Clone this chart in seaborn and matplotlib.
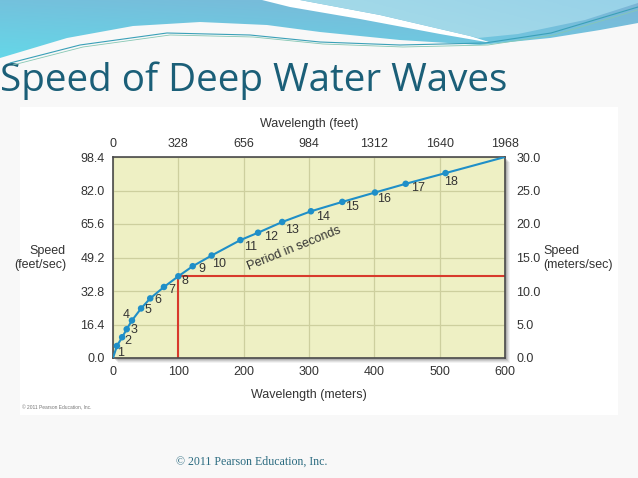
import matplotlib
matplotlib.use("Agg")
import matplotlib.pyplot as plt
from matplotlib.patches import Polygon, Rectangle
from matplotlib.colors import LinearSegmentedColormap
import numpy as np
import pandas as pd
import seaborn as sns

# wave period (s) and the values
period = list(range(1, 19))
wavelength_m = [6, 14, 21, 29, 43, 57, 78, 100, 122, 151, 195, 222, 259, 303, 351, 401, 448, 509]
speed_ms = [1.8, 3.1, 4.3, 5.6, 7.4, 8.9, 10.6, 12.2, 13.7, 15.3, 17.6, 18.7, 20.3, 21.9, 23.3, 24.7, 26.0, 27.6]
curve_start = (0, 0.0)
curve_end = (600, 30.0)

meter_ticks = [0, 100, 200, 300, 400, 500, 600]
feet_labels = ["0", "328", "656", "984", "1312", "1640", "1968"]
ms_ticks = [0, 5, 10, 15, 20, 25, 30]
fts_labels = ["0.0", "16.4", "32.8", "49.2", "65.6", "82.0", "98.4"]
ms_labels = ["0.0", "5.0", "10.0", "15.0", "20.0", "25.0", "30.0"]

# where each period number sits relative to its dot (pixels right, pixels down)
label_offset_px = [(4, 7), (6, 4), (7, 1), (-6, -5), (7, 2), (8, 2), (8, 3), (7, 5), (9, 3),
                   (7, 9), (10, 7), (13, 4), (10, 8), (12, 6), (10, 5), (9, 6), (12, 4), (5, 9)]

df = pd.DataFrame({"period": period, "wavelength": wavelength_m, "speed": speed_ms})
curve = pd.concat([
    pd.DataFrame({"wavelength": [curve_start[0]], "speed": [curve_start[1]]}),
    df[["wavelength", "speed"]],
    pd.DataFrame({"wavelength": [curve_end[0]], "speed": [curve_end[1]]}),
], ignore_index=True)

sns.set_style("white")
plt.rcParams["font.family"] = ["Liberation Sans", "DejaVu Sans"]

W, H = 638, 478
fig = plt.figure(figsize=(W / 100, H / 100), dpi=100)
fig.patch.set_facecolor("#f8f8f8")

# background layer in pixel coordinates
bg = fig.add_axes([0, 0, 1, 1], zorder=-5)
bg.set_xlim(0, W)
bg.set_ylim(H, 0)
bg.axis("off")


def grad_fill(pts, c1, c2, angle=0.5, z=1):
    patch = Polygon(pts, closed=True, facecolor="none", edgecolor="none")
    bg.add_patch(patch)
    xx, yy = np.meshgrid(np.linspace(0, 1, 200), np.linspace(0, 1, 60))
    g = xx * angle + (1 - yy) * (1 - angle)
    cmap = LinearSegmentedColormap.from_list("g", [c1, c2])
    im = bg.imshow(g, extent=(0, W, 70, 0), cmap=cmap, aspect="auto", zorder=z)
    im.set_clip_path(patch)


grad_fill([(0, 0), (638, 0), (638, 23), (600, 30), (550, 38), (480, 45), (400, 40),
           (320, 32), (267, 25), (200, 22), (133, 26), (67, 38), (0, 58)],
          "#62dbea", "#7db4d6", angle=0.35)
# white streak
bg.add_patch(Polygon([(262, 0), (300, 0), (380, 15), (470, 36), (492, 43), (440, 34),
                      (360, 19), (290, 7)], closed=True, facecolor="white",
                     edgecolor="none", zorder=2))
grad_fill([(300, 0), (638, 0), (638, 3), (585, 20), (518, 34), (478, 38), (470, 36), (380, 15)],
          "#b6e6ea", "#98d2e8", angle=0.7, z=3)
xs = np.array([10, 80, 167, 250, 320, 400, 485, 551, 638])
ys = np.array([63, 45, 33, 35, 42, 45, 43, 33, 7])
bg.plot(xs, ys, color="#3aa0b8", lw=0.8, zorder=4)
bg.plot(xs + 3, ys + 2, color="#86c8b4", lw=0.6, zorder=4)

bg.text(0, 91, "Speed of Deep Water Waves", fontsize=27.8, color="#1b5f78",
        family=["Open Sans", "DejaVu Sans"], va="baseline", ha="left")

# white chart panel
bg.add_patch(Rectangle((20, 107), 598, 308, facecolor="white", edgecolor="none", zorder=1))
# shadow around plot area
for off, a in [(5, 0.05), (4, 0.07), (3, 0.09), (2, 0.12)]:
    bg.add_patch(Rectangle((113 + off, 157 + off), 392, 201, facecolor="black",
                           edgecolor="none", alpha=a, zorder=2))
bg.text(22, 408, "© 2011 Pearson Education, Inc.", fontsize=3.5, color="#777777", va="center")
bg.text(252, 462, "© 2011 Pearson Education, Inc.", fontsize=8.6, color="#2b6b80",
        family=["Liberation Serif", "DejaVu Serif"], ha="center", va="center")

# main chart
ax = fig.add_axes([113 / W, 1 - 358 / H, 392 / W, 201 / H])
ax.set_facecolor("#eef0c4")
ax.set_xlim(0, 600)
ax.set_ylim(0, 30)
ax.grid(True, color="#cdcf9e", lw=0.9)
ax.set_axisbelow(True)
for s in ax.spines.values():
    s.set_color("#4a4a4a")
    s.set_linewidth(1.2)

ax.plot([100, 100], [0, 12.2], color="#d83a2c", lw=1.5, zorder=2)
ax.plot([100, 600], [12.2, 12.2], color="#d83a2c", lw=1.5, zorder=2)

sns.lineplot(data=curve, x="wavelength", y="speed", sort=False, color="#1f8fc8",
             lw=1.5, ax=ax, zorder=3)
sns.scatterplot(data=df, x="wavelength", y="speed", color="#1f8fc8", s=22,
                edgecolor="none", ax=ax, zorder=4)

for p, x, y, (dx, dy) in zip(period, wavelength_m, speed_ms, label_offset_px):
    ax.annotate(str(p), (x, y), xytext=(dx * 0.72, -dy * 0.72), textcoords="offset points",
                ha="center", va="center", fontsize=9, color="#333333")

ax.text(277, 16.3, "Period in seconds", rotation=22, fontsize=9, color="#333333",
        ha="center", va="center")

ax.set_xticks(meter_ticks)
ax.set_yticks(ms_ticks, labels=fts_labels)
ax.tick_params(length=0, pad=6, labelsize=9, labelcolor="#333333")
ax.set_xlabel("Wavelength (meters)", fontsize=9, color="#333333", labelpad=8)
ax.set_ylabel("")

top = ax.secondary_xaxis("top")
top.set_xticks(meter_ticks, labels=feet_labels)
top.tick_params(length=0, pad=5, labelsize=9, labelcolor="#333333")
top.set_xlabel("Wavelength (feet)", fontsize=9, color="#333333", labelpad=8)
top.spines["top"].set_visible(False)

right = ax.secondary_yaxis("right")
right.set_yticks(ms_ticks, labels=ms_labels)
right.tick_params(length=0, pad=8, labelsize=9, labelcolor="#333333")
right.spines["right"].set_visible(False)

fig.text(66 / W, 1 - 258 / H, "Speed\n(feet/sec)", fontsize=9, color="#333333",
         ha="right", va="center", multialignment="right")
fig.text(543 / W, 1 - 258 / H, "Speed\n(meters/sec)", fontsize=9, color="#333333",
         ha="left", va="center")

fig.savefig("out.png", dpi=100)
